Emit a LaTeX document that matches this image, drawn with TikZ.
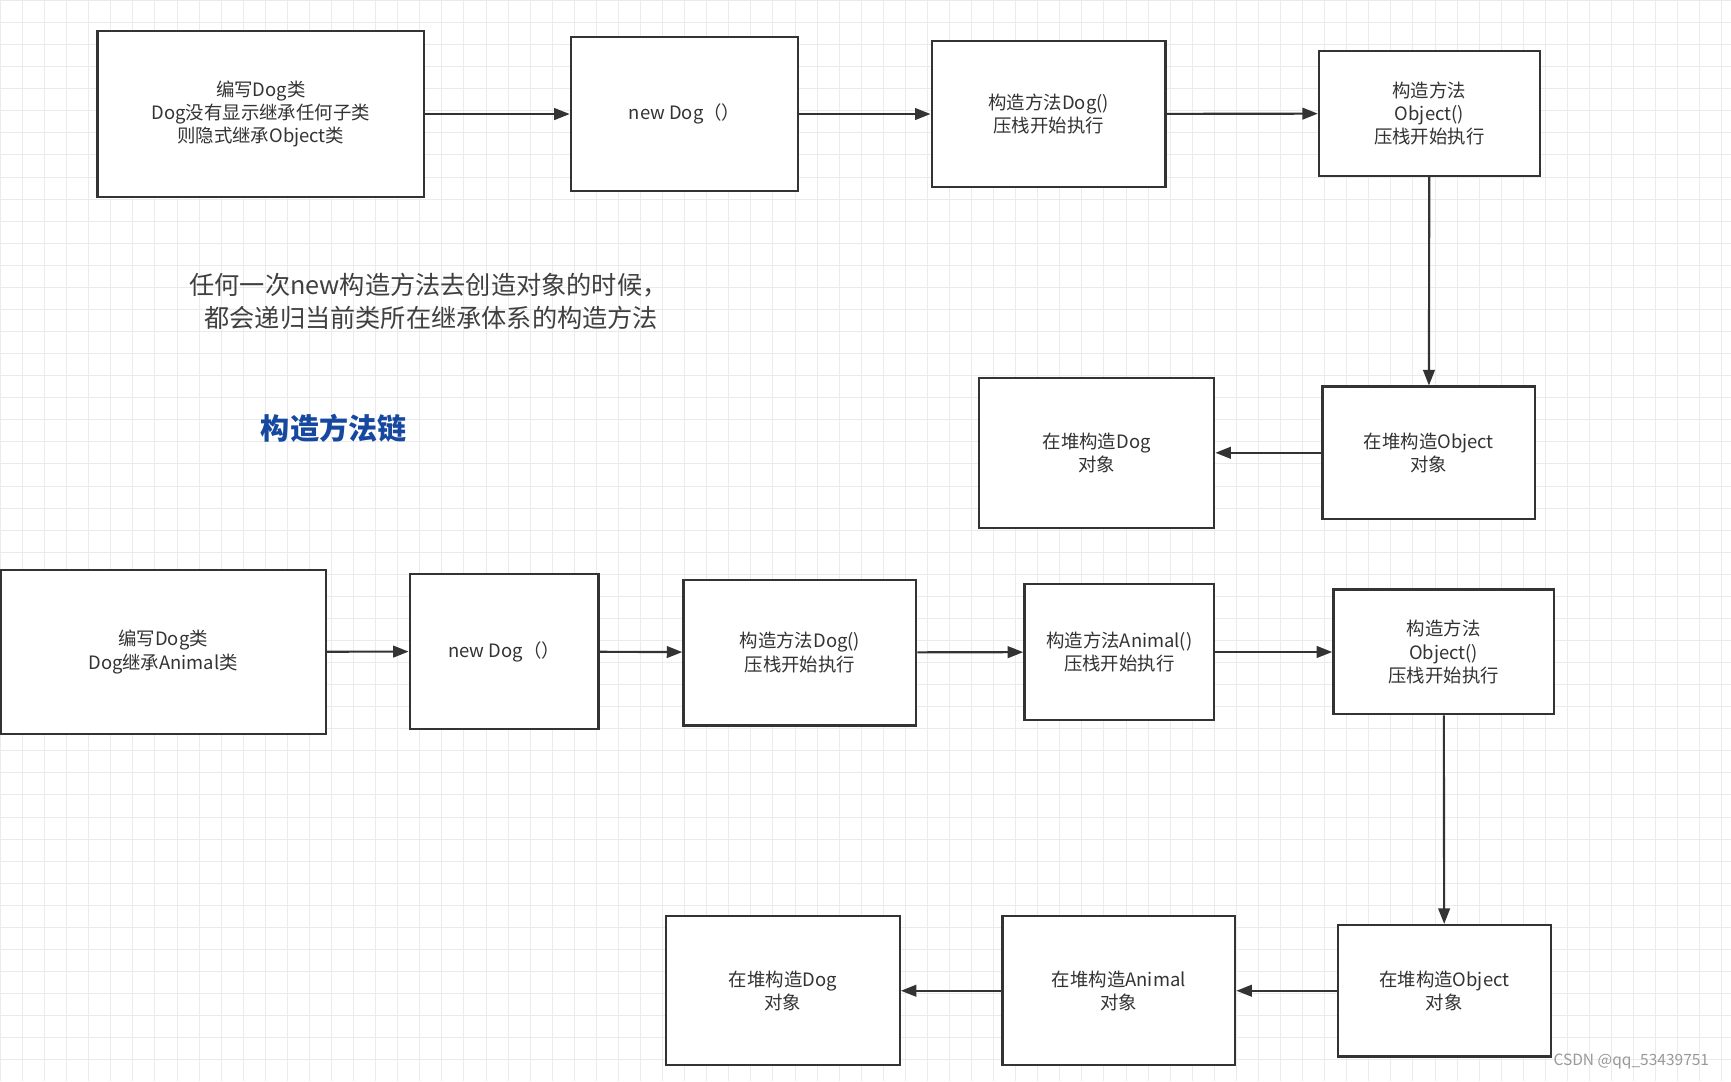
\documentclass[tikz,border=0pt]{standalone}
\usepackage{fontspec}
\setmainfont{Noto Sans CJK SC}
\usetikzlibrary{arrows.meta}
\begin{document}
\begin{tikzpicture}[x=0.02cm,y=-0.02cm,
  bx/.style={draw=black!80,line width=1.2pt,fill=white,align=center,font=\fontsize{9.5pt}{12pt}\selectfont,text=black!80},
  ar/.style={draw=black!80,line width=1.1pt,-{Triangle[length=8pt,width=6pt]}}]
\fill[white] (0,0) rectangle (1568,979);
\draw[black!8,line width=0.4pt] (0,0) grid[step=20*0.02cm] (1568,979);
\useasboundingbox (0,0) rectangle (1568,979);
\def\bb(#1)#2#3#4#5#6{\node[bx,minimum width={(#4-#2)*0.02cm},minimum height={(#5-#3)*0.02cm}] (#1) at ({(#2+#4)/2},{(#3+#5)/2}) {#6};}
\bb(a1){88}{28}{384}{178}{编写Dog类\\Dog没有显示继承任何子类\\则隐式继承Object类}
\bb(a2){517}{33}{723}{173}{new Dog（）}
\bb(a3){844}{37}{1056}{169}{构造方法Dog()\\压栈开始执行}
\bb(a4){1195}{46}{1395}{159}{构造方法\\Object()\\压栈开始执行}
\bb(a5){1198}{350}{1391}{470}{在堆构造Object\\对象}
\bb(a6){887}{342}{1100}{478}{在堆构造Dog\\对象}
\draw[ar] (a1) -- (a2); \draw[ar] (a2) -- (a3); \draw[ar] (a3) -- (a4);
\draw[ar] (a4) -- (a5); \draw[ar] (a5) -- (a6);
\node[align=center,font=\fontsize{13pt}{17pt}\selectfont,text=black!75] (t1) at (388,273) {任何一次new构造方法去创造对象的时候，\\\ 都会递归当前类所在继承体系的构造方法};
\node[font=\fontsize{15pt}{18pt}\selectfont\bfseries,text={rgb,255:red,22;green,72;blue,160}] (t2) at (302,388) {构造方法链};
\bb(b1){0}{516}{295}{665}{编写Dog类\\Dog继承Animal类}
\bb(b2){371}{520}{542}{660}{new Dog（）}
\bb(b3){619}{525}{830}{657}{构造方法Dog()\\压栈开始执行}
\bb(b4){928}{529}{1100}{652}{构造方法Animal()\\压栈开始执行}
\bb(b5){1208}{534}{1408}{647}{构造方法\\Object()\\压栈开始执行}
\bb(b6){1212}{838}{1405}{957}{在堆构造Object\\对象}
\bb(b7){908}{830}{1119}{965}{在堆构造Animal\\对象}
\bb(b8){603}{830}{815}{965}{在堆构造Dog\\对象}
\draw[ar] (b1) -- (b2); \draw[ar] (b2) -- (b3); \draw[ar] (b3) -- (b4);
\draw[ar] (b4) -- (b5); \draw[ar] (b5) -- (b6); \draw[ar] (b6) -- (b7); \draw[ar] (b7) -- (b8);
\node[font=\fontsize{8pt}{10pt}\selectfont,text=black!40] (wm) at (1478,962) {CSDN @qq\_53439751};
\end{tikzpicture}
\end{document}
